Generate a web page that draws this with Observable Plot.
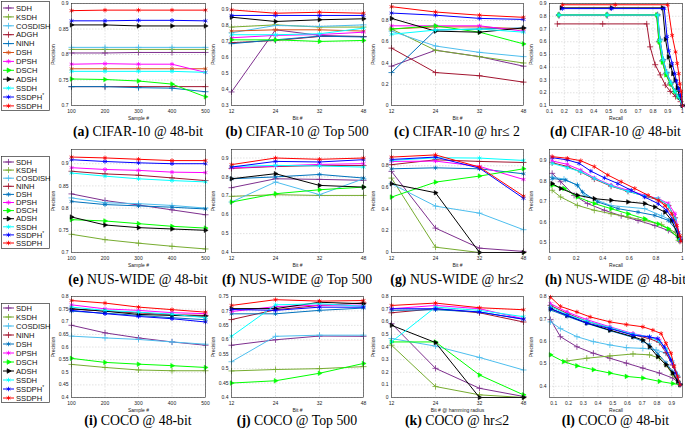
<!DOCTYPE html>
<html><head><meta charset="utf-8">
<script src="https://cdn.jsdelivr.net/npm/d3@7"></script>
<script src="https://cdn.jsdelivr.net/npm/@observablehq/plot@0.6"></script>
<style>
body{margin:0;background:#fff;}
#root{position:relative;width:685px;height:439px;overflow:hidden;background:#fff;}
.panel{position:absolute;overflow:visible;}
.cap{position:absolute;font-family:"Liberation Serif","Times New Roman",serif;font-size:13.8px;line-height:16px;white-space:nowrap;transform:translateX(-50%);color:#000;}
</style></head>
<body><div id="root"></div>
<script>
// ---------- series meta ----------
const methods1 = ["SDH","KSDH","COSDISH","ADGH","NINH","DSH","DPSH","DSCH","ADSH","SSDH","SSDPH*","SSDPH"];
const colors1  = ["#7E2F8E","#77AC30","#4DBEEE","#A2142F","#0072BD","#D95319","#FF00FF","#00FF00","#000000","#00FFFF","#0000FF","#FF0000"];
const markers1 = ["plus","plus","plus","plus","plus","asterisk","asterisk","tri","tri","asterisk","asterisk","asterisk"];
const methods2 = ["SDH","KSDH","COSDISH","NINH","DSH","DPSH","DSCH","ADSH","SSDH","SSDPH*","SSDPH"];
const colors2  = ["#7E2F8E","#77AC30","#4DBEEE","#A2142F","#0072BD","#FF00FF","#00FF00","#000000","#00FFFF","#0000FF","#FF0000"];
const markers2 = ["plus","plus","plus","plus","asterisk","asterisk","tri","tri","asterisk","asterisk","asterisk"];

const samples = [100,200,300,400,500];
const bits = [12,24,32,48];

// ---------- (a) CIFAR-10 @ 48-bit vs sample ----------
const cifarSample = {
  "SDH":[0.803,0.803,0.804,0.804,0.804],
  "KSDH":[0.810,0.810,0.810,0.810,0.810],
  "COSDISH":[0.814,0.814,0.814,0.814,0.814],
  "ADGH":[0.737,0.737,0.737,0.737,0.737],
  "NINH":[0.737,0.737,0.735,0.734,0.727],
  "DSH":[0.772,0.772,0.772,0.772,0.772],
  "DPSH":[0.781,0.782,0.781,0.781,0.765],
  "DSCH":[0.752,0.751,0.748,0.742,0.717],
  "ADSH":[0.858,0.858,0.856,0.856,0.856],
  "SSDH":[0.767,0.767,0.767,0.767,0.765],
  "SSDPH*":[0.866,0.866,0.867,0.867,0.866],
  "SSDPH":[0.886,0.887,0.887,0.887,0.887]
};
// ---------- (b) CIFAR-10 @ Top 500 ----------
const cifarTop = {
  "SDH":[0.385,0.775,0.74,0.733],
  "KSDH":[0.792,0.806,0.792,0.792],
  "COSDISH":[0.756,0.802,0.796,0.806],
  "ADGH":[0.694,0.708,0.733,0.733],
  "NINH":[0.688,0.712,0.735,0.73],
  "DSH":[0.767,0.775,0.775,0.767],
  "DPSH":[0.725,0.74,0.745,0.76],
  "DSCH":[0.712,0.712,0.702,0.708],
  "ADSH":[0.854,0.827,0.838,0.844],
  "SSDH":[0.744,0.744,0.75,0.785],
  "SSDPH*":[0.865,0.865,0.865,0.865],
  "SSDPH":[0.9,0.879,0.885,0.879]
};
// ---------- (c) CIFAR-10 @ hr<=2 ----------
const cifarHr = {
  "SDH":[0.37,0.52,0.46,0.37],
  "KSDH":[0.72,0.52,0.46,0.40],
  "COSDISH":[0.70,0.56,0.50,0.46],
  "ADGH":[0.54,0.31,0.28,0.22],
  "NINH":[0.31,0.71,0.72,0.73],
  "DSH":[0.72,0.74,0.74,0.72],
  "DPSH":[0.75,0.75,0.75,0.70],
  "DSCH":[0.72,0.75,0.69,0.58],
  "ADSH":[0.82,0.70,0.69,0.73],
  "SSDH":[0.67,0.71,0.72,0.69],
  "SSDPH*":[0.87,0.85,0.82,0.81],
  "SSDPH":[0.93,0.88,0.85,0.83]
};
// ---------- (d) CIFAR-10 PR ----------
const cifarPR = {
  "SDH":[[0.164,0.806],[0.49,0.806],[0.825,0.806],[0.84,0.6],[0.862,0.45],[0.887,0.35],[0.918,0.27],[0.946,0.21],[0.97,0.17],[1.0,0.1]],
  "KSDH":[[0.164,0.806],[0.49,0.806],[0.828,0.806],[0.843,0.6],[0.865,0.45],[0.89,0.35],[0.92,0.27],[0.948,0.21],[0.97,0.17],[1.0,0.1]],
  "COSDISH":[[0.164,0.81],[0.49,0.81],[0.83,0.81],[0.845,0.61],[0.867,0.45],[0.89,0.35],[0.92,0.27],[0.948,0.21],[0.97,0.17],[1.0,0.1]],
  "ADGH":[[0.153,0.74],[0.46,0.74],[0.758,0.74],[0.781,0.56],[0.815,0.42],[0.85,0.34],[0.884,0.26],[0.918,0.21],[0.953,0.17],[0.987,0.13],[1.0,0.1]],
  "NINH":[[0.164,0.812],[0.49,0.812],[0.832,0.812],[0.848,0.62],[0.87,0.46],[0.893,0.36],[0.922,0.28],[0.95,0.21],[0.972,0.17],[1.0,0.1]],
  "DSH":[[0.164,0.812],[0.49,0.812],[0.83,0.812],[0.846,0.61],[0.868,0.45],[0.891,0.35],[0.92,0.27],[0.948,0.21],[0.97,0.17],[1.0,0.1]],
  "DPSH":[[0.164,0.808],[0.49,0.808],[0.83,0.808],[0.845,0.61],[0.867,0.45],[0.89,0.35],[0.92,0.27],[0.948,0.21],[0.97,0.17],[1.0,0.1]],
  "DSCH":[[0.164,0.81],[0.49,0.81],[0.826,0.81],[0.842,0.6],[0.864,0.44],[0.888,0.34],[0.918,0.27],[0.946,0.21],[0.97,0.17],[1.0,0.1]],
  "ADSH":[[0.18,0.866],[0.52,0.866],[0.865,0.866],[0.885,0.62],[0.905,0.48],[0.92,0.41],[0.935,0.35],[0.95,0.3],[0.965,0.24],[0.98,0.17],[1.0,0.1]],
  "SSDH":[[0.164,0.81],[0.49,0.81],[0.832,0.81],[0.847,0.61],[0.869,0.46],[0.892,0.36],[0.921,0.28],[0.949,0.21],[0.971,0.17],[1.0,0.1]],
  "SSDPH*":[[0.187,0.86],[0.52,0.86],[0.877,0.86],[0.895,0.64],[0.907,0.53],[0.93,0.43],[0.948,0.35],[0.959,0.29],[0.975,0.23],[0.987,0.18],[1.0,0.1]],
  "SSDPH":[[0.187,0.89],[0.545,0.89],[0.9,0.89],[0.93,0.65],[0.953,0.52],[0.964,0.43],[0.975,0.35],[0.982,0.27],[0.991,0.21],[1.0,0.1]]
};
// ---------- (e) NUS-WIDE @ 48-bit vs sample ----------
const nusSample = {
  "SDH":[0.832,0.817,0.807,0.796,0.785],
  "KSDH":[0.741,0.729,0.721,0.714,0.708],
  "COSDISH":[0.823,0.812,0.81,0.806,0.8],
  "NINH":[0.883,0.877,0.874,0.868,0.862],
  "DSH":[0.815,0.808,0.805,0.802,0.798],
  "DPSH":[0.891,0.887,0.885,0.881,0.88],
  "DSCH":[0.774,0.771,0.765,0.759,0.755],
  "ADSH":[0.78,0.762,0.756,0.753,0.75],
  "SSDH":[0.879,0.872,0.866,0.862,0.859],
  "SSDPH*":[0.909,0.905,0.902,0.9,0.9],
  "SSDPH":[0.915,0.913,0.91,0.907,0.907]
};
// ---------- (f) NUS-WIDE @ Top 500 ----------
const nusTop = {
  "SDH":[0.743,0.79,0.787,0.782],
  "KSDH":[0.697,0.706,0.702,0.702],
  "COSDISH":[0.667,0.773,0.706,0.79],
  "NINH":[0.845,0.855,0.86,0.86],
  "DSH":[0.79,0.8,0.813,0.794],
  "DPSH":[0.847,0.858,0.866,0.87],
  "DSCH":[0.667,0.711,0.732,0.746],
  "ADSH":[0.79,0.817,0.755,0.746],
  "SSDH":[0.855,0.861,0.858,0.852],
  "SSDPH*":[0.852,0.882,0.879,0.891],
  "SSDPH":[0.865,0.9,0.893,0.9]
};
// ---------- (g) NUS-WIDE @ hr<=2 ----------
const nusHr = {
  "SDH":[0.748,0.225,0.04,0.01],
  "KSDH":[0.686,0.049,0.0,0.0],
  "COSDISH":[0.634,0.428,0.363,0.21],
  "NINH":[0.81,0.855,0.84,0.83],
  "DSH":[0.772,0.781,0.772,0.726],
  "DPSH":[0.84,0.843,0.794,0.674],
  "DSCH":[0.511,0.649,0.705,0.772],
  "ADSH":[0.634,0.551,0.0,0.0],
  "SSDH":[0.849,0.874,0.871,0.849],
  "SSDPH*":[0.858,0.88,0.778,0.5],
  "SSDPH":[0.88,0.9,0.788,0.52]
};
// ---------- (h) NUS-WIDE PR ----------
const nusPR = {
  "SDH":[[0.02,0.838],[0.084,0.797],[0.185,0.73],[0.286,0.69],[0.413,0.657],[0.539,0.63],[0.666,0.607],[0.792,0.582],[0.894,0.558],[0.97,0.525],[0.98,0.505]],
  "KSDH":[[0.02,0.755],[0.084,0.722],[0.21,0.681],[0.337,0.657],[0.463,0.64],[0.59,0.624],[0.716,0.607],[0.843,0.586],[0.944,0.549],[0.97,0.51]],
  "COSDISH":[[0.02,0.82],[0.109,0.81],[0.21,0.78],[0.261,0.73],[0.463,0.68],[0.716,0.665],[0.843,0.63],[0.919,0.607],[0.97,0.53]],
  "NINH":[[0.02,0.89],[0.134,0.872],[0.235,0.845],[0.337,0.81],[0.463,0.775],[0.59,0.75],[0.716,0.727],[0.818,0.708],[0.894,0.68],[0.944,0.62],[0.982,0.515]],
  "DSH":[[0.02,0.813],[0.122,0.805],[0.21,0.78],[0.248,0.747],[0.362,0.698],[0.514,0.665],[0.666,0.648],[0.792,0.632],[0.894,0.607],[0.957,0.558],[0.982,0.52]],
  "DPSH":[[0.02,0.899],[0.134,0.882],[0.235,0.854],[0.337,0.816],[0.463,0.78],[0.59,0.755],[0.716,0.731],[0.818,0.714],[0.894,0.69],[0.944,0.64],[0.982,0.52]],
  "DSCH":[[0.02,0.78],[0.109,0.764],[0.21,0.722],[0.337,0.69],[0.463,0.665],[0.59,0.64],[0.716,0.615],[0.818,0.59],[0.894,0.566],[0.97,0.52]],
  "ADSH":[[0.02,0.788],[0.084,0.764],[0.21,0.731],[0.337,0.714],[0.463,0.706],[0.59,0.698],[0.716,0.69],[0.792,0.673],[0.868,0.648],[0.919,0.607],[0.97,0.53]],
  "SSDH":[[0.02,0.887],[0.134,0.866],[0.235,0.846],[0.337,0.813],[0.463,0.777],[0.59,0.75],[0.716,0.727],[0.818,0.714],[0.894,0.68],[0.944,0.615],[0.982,0.51]],
  "SSDPH*":[[0.02,0.915],[0.134,0.904],[0.223,0.887],[0.311,0.849],[0.413,0.816],[0.514,0.788],[0.615,0.755],[0.716,0.722],[0.818,0.689],[0.881,0.657],[0.932,0.607],[0.97,0.549],[0.985,0.51]],
  "SSDPH":[[0.02,0.92],[0.134,0.912],[0.235,0.9],[0.337,0.871],[0.438,0.83],[0.539,0.797],[0.641,0.764],[0.742,0.73],[0.818,0.706],[0.868,0.68],[0.919,0.64],[0.957,0.582],[0.98,0.533],[0.988,0.505]]
};
// ---------- (i) COCO @ 48-bit vs sample ----------
const cocoSample = {
  "SDH":[0.686,0.656,0.636,0.62,0.607],
  "KSDH":[0.531,0.519,0.509,0.506,0.506],
  "COSDISH":[0.643,0.636,0.63,0.62,0.611],
  "NINH":[0.751,0.742,0.735,0.728,0.725],
  "DSH":[0.742,0.734,0.725,0.716,0.708],
  "DPSH":[0.767,0.751,0.745,0.736,0.732],
  "DSCH":[0.555,0.539,0.532,0.526,0.519],
  "ADSH":[0.751,0.742,0.729,0.725,0.722],
  "SSDH":[0.758,0.745,0.738,0.73,0.716],
  "SSDPH*":[0.745,0.732,0.721,0.712,0.699],
  "SSDPH":[0.784,0.774,0.758,0.748,0.738]
};
// ---------- (j) COCO @ Top 500 ----------
const cocoTop = {
  "SDH":[0.581,0.6,0.613,0.612],
  "KSDH":[0.492,0.497,0.5,0.507],
  "COSDISH":[0.524,0.612,0.616,0.616],
  "NINH":[0.67,0.704,0.719,0.728],
  "DSH":[0.69,0.69,0.702,0.71],
  "DPSH":[0.698,0.715,0.72,0.72],
  "DSCH":[0.45,0.458,0.484,0.518],
  "ADSH":[0.708,0.708,0.73,0.725],
  "SSDH":[0.612,0.721,0.725,0.716],
  "SSDPH*":[0.705,0.702,0.713,0.713],
  "SSDPH":[0.719,0.739,0.734,0.736]
};
// ---------- (k) COCO @ hr<=2 ----------
const cocoHr = {
  "SDH":[0.585,0.231,0.073,0.008],
  "KSDH":[0.414,0.087,0.021,0.0],
  "COSDISH":[0.467,0.407,0.317,0.218],
  "NINH":[0.671,0.703,0.671,0.598],
  "DSH":[0.69,0.695,0.677,0.62],
  "DPSH":[0.703,0.729,0.703,0.624],
  "DSCH":[0.44,0.44,0.178,0.021],
  "ADSH":[0.572,0.435,0.0,0.0],
  "SSDH":[0.441,0.716,0.69,0.64],
  "SSDPH*":[0.703,0.703,0.677,0.62],
  "SSDPH":[0.729,0.748,0.711,0.695]
};
// ---------- (l) COCO PR ----------
const cocoPR = {
  "SDH":[[0.078,0.697],[0.145,0.621],[0.257,0.576],[0.369,0.547],[0.481,0.525],[0.593,0.503],[0.705,0.481],[0.817,0.459],[0.907,0.437],[0.957,0.412]],
  "KSDH":[[0.19,0.513],[0.324,0.525],[0.481,0.535],[0.638,0.544],[0.75,0.54],[0.817,0.525],[0.862,0.496],[0.907,0.451],[0.957,0.41]],
  "COSDISH":[[0.078,0.687],[0.145,0.657],[0.257,0.621],[0.369,0.599],[0.481,0.584],[0.593,0.572],[0.705,0.569],[0.795,0.562],[0.862,0.547],[0.907,0.496],[0.941,0.444],[0.957,0.41]],
  "NINH":[[0.078,0.76],[0.19,0.725],[0.324,0.69],[0.481,0.66],[0.638,0.63],[0.75,0.612],[0.817,0.595],[0.862,0.55],[0.907,0.495],[0.941,0.44],[0.957,0.407]],
  "DSH":[[0.078,0.74],[0.19,0.712],[0.324,0.68],[0.481,0.648],[0.638,0.618],[0.705,0.6],[0.75,0.585],[0.806,0.545],[0.862,0.505],[0.907,0.465],[0.957,0.407]],
  "DPSH":[[0.078,0.768],[0.19,0.731],[0.324,0.697],[0.481,0.665],[0.638,0.635],[0.75,0.62],[0.817,0.606],[0.862,0.562],[0.907,0.503],[0.941,0.444],[0.957,0.407]],
  "DSCH":[[0.078,0.54],[0.167,0.51],[0.257,0.491],[0.369,0.474],[0.481,0.459],[0.593,0.444],[0.705,0.437],[0.817,0.422],[0.907,0.412],[0.957,0.407]],
  "ADSH":[[0.078,0.746],[0.19,0.716],[0.324,0.682],[0.481,0.65],[0.638,0.621],[0.705,0.606],[0.75,0.576],[0.806,0.532],[0.862,0.496],[0.907,0.459],[0.941,0.422],[0.957,0.407]],
  "SSDH":[[0.078,0.755],[0.19,0.72],[0.324,0.69],[0.481,0.662],[0.638,0.632],[0.75,0.62],[0.817,0.6],[0.862,0.565],[0.907,0.51],[0.941,0.45],[0.957,0.407]],
  "SSDPH*":[[0.078,0.746],[0.19,0.716],[0.324,0.682],[0.481,0.657],[0.638,0.628],[0.75,0.62],[0.806,0.613],[0.851,0.576],[0.896,0.518],[0.93,0.459],[0.957,0.407]],
  "SSDPH":[[0.078,0.797],[0.145,0.756],[0.257,0.731],[0.347,0.709],[0.481,0.687],[0.593,0.675],[0.705,0.665],[0.773,0.65],[0.829,0.635],[0.862,0.591],[0.896,0.547],[0.918,0.488],[0.941,0.444],[0.957,0.407]]
};

// ---------- tick labels ----------
const ticksSample = [100,200,300,400,500];
const ticksY_a = [0.7,0.75,0.8,0.85,0.9];
const ticksY_b = [0.3,0.4,0.5,0.6,0.7,0.8,0.9];
const ticksY_c = [0,0.2,0.4,0.6,0.8];
const ticksX_d = [0.1,0.2,0.3,0.4,0.5,0.6,0.7,0.8,0.9,1];
const ticksY_d = [0.1,0.2,0.3,0.4,0.5,0.6,0.7,0.8,0.9];
const ticksY_e = [0.7,0.75,0.8,0.85,0.9];
const ticksY_f = [0.4,0.5,0.6,0.7,0.8,0.9];
const ticksY_g = [0,0.2,0.4,0.6,0.8];
const ticksX_h = [0,0.2,0.4,0.6,0.8,1];
const ticksY_h = [0.5,0.6,0.7,0.8,0.9];
const ticksY_i = [0.4,0.45,0.5,0.55,0.6,0.65,0.7,0.75,0.8];
const ticksY_j = [0.4,0.45,0.5,0.55,0.6,0.65,0.7,0.75];
const ticksY_k = [0,0.1,0.2,0.3,0.4,0.5,0.6,0.7,0.8];
const ticksX_l = [0.1,0.2,0.3,0.4,0.5,0.6,0.7,0.8,0.9];
const ticksY_l = [0.4,0.5,0.6,0.7,0.8];

const root = document.getElementById("root");
const cols = [[71,205],[231,363],[391,523],[549,682]];
const rows = [[3,105],[149,252],[296,397]];

function toPts(xs, ys){ return ys.map((y,i)=>[xs[i], y]); }

function panel(cfg){
  const [x0,x1] = cols[cfg.col], [y0,y1] = rows[cfg.row];
  const mL=34,mR=3,mT=3,mB=18;
  const width = x1-x0+mL+mR, height = y1-y0+mT+mB;
  const grid = {stroke:"#c4c4c4", strokeOpacity:1, strokeWidth:0.5, strokeDasharray:"1.5,1.5"};
  const marks = [
    Plot.gridX(cfg.xTicks, grid),
    Plot.gridY(cfg.yTicks, grid)
  ];
  cfg.names.forEach((name,k)=>{
    let raw = cfg.data[name];
    if(!raw) return;
    const pts = cfg.pr ? raw : toPts(cfg.xs, raw);
    const col = cfg.colors[k], m = cfg.markers[k];
    marks.push(Plot.line(pts, {x:"0", y:"1", stroke:col, strokeWidth:1}));
    if(m==="tri") marks.push(Plot.dot(pts, {x:"0", y:"1", symbol:"triangle", fill:col, stroke:col, strokeWidth:0.5, r:1.7, rotate:90}));
    else marks.push(Plot.dot(pts, {x:"0", y:"1", symbol:m, stroke:col, strokeWidth:0.8, r:2.1}));
  });
  marks.push(Plot.frame({stroke:"#262626", strokeWidth:0.6}));
  marks.push(Plot.axisX(cfg.xTicks, {tickSize:0, tickPadding:4, tickFormat:d=>String(d), label:cfg.xLabel, labelAnchor:"center", labelArrow:"none", labelOffset:14}));
  marks.push(Plot.axisY(cfg.yTicks, {tickSize:0, tickPadding:3, tickFormat:d=>String(d), label:"Precision", labelAnchor:"center", labelArrow:"none", labelOffset:20}));
  const xScale = cfg.pr ? {type:"linear", domain:cfg.xDomain} : (cfg.xType==="point" ? {type:"point", domain:bits, padding:0} : {type:"linear", domain:[100,500]});
  const svg = Plot.plot({
    width, height, marginLeft:mL, marginRight:mR, marginTop:mT, marginBottom:mB,
    x: xScale, y:{domain:cfg.yDomain},
    style:{fontSize:"5px", fontFamily:"'Liberation Sans', Arial, sans-serif", background:"transparent", color:"#222", overflow:"visible"},
    marks
  });
  svg.classList.add("panel");
  svg.style.left = (x0-mL)+"px";
  svg.style.top = (y0-mT)+"px";
  root.appendChild(svg);
  const cap = document.createElement("div");
  cap.className = "cap";
  cap.style.left = ((x0+x1)/2)+"px";
  cap.style.top = cfg.capTop+"px";
  cap.innerHTML = `<b>(${cfg.letter})</b> ${cfg.caption}`;
  root.appendChild(cap);
}

function legend(names, colors, markers, bx, by, bw, bh, ey0, edy){
  const svg = d3.select(root).append("svg").attr("class","panel")
    .style("left",bx+"px").style("top",by+"px").attr("width",bw).attr("height",bh);
  svg.append("rect").attr("x",0.5).attr("y",0.5).attr("width",bw-1).attr("height",bh-1)
    .attr("fill","#fff").attr("stroke","#333").attr("stroke-width",0.7);
  names.forEach((n,i)=>{
    const y = ey0 + i*edy, c = colors[i], m = markers[i];
    svg.append("line").attr("x1",2).attr("x2",13).attr("y1",y).attr("y2",y).attr("stroke",c).attr("stroke-width",1);
    const type = m==="plus" ? d3.symbolPlus : m==="asterisk" ? d3.symbolAsterisk : d3.symbolTriangle;
    svg.append("path").attr("d", d3.symbol(type, m==="tri"?9:14)())
      .attr("transform",`translate(7.5,${y})`+(m==="tri"?" rotate(90)":""))
      .attr("fill", m==="tri"?c:"none").attr("stroke",c).attr("stroke-width",0.8);
    const t = svg.append("text").attr("x",15).attr("y",y).attr("dy","0.36em")
      .attr("font-size",7.6).attr("font-family","'Liberation Sans', Arial, sans-serif").attr("fill","#111")
      .text(n.replace("*",""));
    if(n.endsWith("*")) t.append("tspan").attr("dy",-2.6).attr("font-size",4.8).text("*");
  });
}

const caps = [124,272,413];
// Row 1
panel({row:0,col:0,letter:"a",caption:"CIFAR-10 @ 48-bit",capTop:caps[0],names:methods1,colors:colors1,markers:markers1,data:cifarSample,xs:samples,xTicks:ticksSample,yTicks:ticksY_a,yDomain:[0.7,0.9],xLabel:"Sample #"});
panel({row:0,col:1,letter:"b",caption:"CIFAR-10 @ Top 500",capTop:caps[0],names:methods1,colors:colors1,markers:markers1,data:cifarTop,xs:bits,xType:"point",xTicks:bits,yTicks:ticksY_b,yDomain:[0.3,0.94],xLabel:"Bit #"});
panel({row:0,col:2,letter:"c",caption:"CIFAR-10 @ hr\u2264 2",capTop:caps[0],names:methods1,colors:colors1,markers:markers1,data:cifarHr,xs:bits,xType:"point",xTicks:bits,yTicks:ticksY_c,yDomain:[0,0.96],xLabel:"Bit #"});
panel({row:0,col:3,letter:"d",caption:"CIFAR-10 @ 48-bit",capTop:caps[0],names:methods1,colors:colors1,markers:markers1,data:cifarPR,pr:true,xDomain:[0.1,1],xTicks:ticksX_d,yTicks:ticksY_d,yDomain:[0.1,0.9],xLabel:"Recall"});
// Row 2
panel({row:1,col:0,letter:"e",caption:"NUS-WIDE @ 48-bit",capTop:caps[1],names:methods2,colors:colors2,markers:markers2,data:nusSample,xs:samples,xTicks:ticksSample,yTicks:ticksY_e,yDomain:[0.7,0.932],xLabel:"Sample #"});
panel({row:1,col:1,letter:"f",caption:"NUS-WIDE @ Top 500",capTop:caps[1],names:methods2,colors:colors2,markers:markers2,data:nusTop,xs:bits,xType:"point",xTicks:bits,yTicks:ticksY_f,yDomain:[0.4,0.945],xLabel:"Bit #"});
panel({row:1,col:2,letter:"g",caption:"NUS-WIDE @ hr\u22642",capTop:caps[1],names:methods2,colors:colors2,markers:markers2,data:nusHr,xs:bits,xType:"point",xTicks:bits,yTicks:ticksY_g,yDomain:[0,0.95],xLabel:"Bit #"});
panel({row:1,col:3,letter:"h",caption:"NUS-WIDE @ 48-bit",capTop:caps[1],names:methods2,colors:colors2,markers:markers2,data:nusPR,pr:true,xDomain:[0,1],xTicks:ticksX_h,yTicks:ticksY_h,yDomain:[0.45,0.955],xLabel:"Recall"});
// Row 3
panel({row:2,col:0,letter:"i",caption:"COCO @ 48-bit",capTop:caps[2],names:methods2,colors:colors2,markers:markers2,data:cocoSample,xs:samples,xTicks:ticksSample,yTicks:ticksY_i,yDomain:[0.4,0.8],xLabel:"Sample #"});
panel({row:2,col:1,letter:"j",caption:"COCO @ Top 500",capTop:caps[2],names:methods2,colors:colors2,markers:markers2,data:cocoTop,xs:bits,xType:"point",xTicks:bits,yTicks:ticksY_j,yDomain:[0.4,0.75],xLabel:"Bit #"});
panel({row:2,col:2,letter:"k",caption:"COCO @ hr\u22642",capTop:caps[2],names:methods2,colors:colors2,markers:markers2,data:cocoHr,xs:bits,xType:"point",xTicks:bits,yTicks:ticksY_k,yDomain:[0,0.8],xLabel:"Bit # @ hamming radius"});
panel({row:2,col:3,letter:"l",caption:"COCO @ 48-bit",capTop:caps[2],names:methods2,colors:colors2,markers:markers2,data:cocoPR,pr:true,xDomain:[0.071,0.974],xTicks:ticksX_l,yTicks:ticksY_l,yDomain:[0.35,0.8],xLabel:"Recall"});

// Legends
legend(methods1, colors1, markers1, 1, 1, 49, 110, 7, 8.9);
legend(methods2, colors2, markers2, 1, 156, 49, 93, 6, 8.1);
legend(methods2, colors2, markers2, 1, 303, 49, 100, 5, 9);
</script></body></html>
